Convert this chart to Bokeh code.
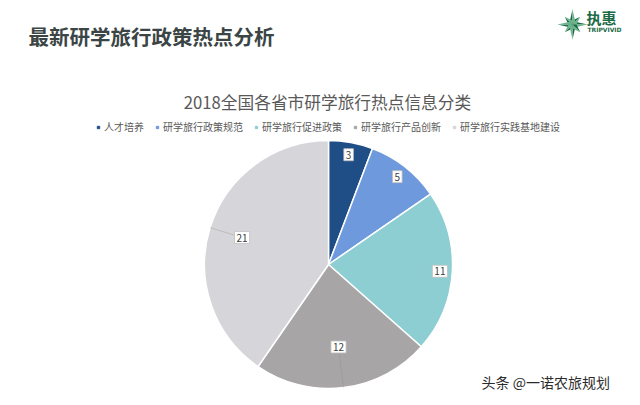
import numpy as np
from bokeh.plotting import figure
from bokeh.models import ColumnDataSource, Range1d, Legend, LegendItem
from bokeh.core.properties import value
from bokeh.embed import file_html
from bokeh.resources import INLINE

# ---- data ----
categories = ["人才培养", "研学旅行政策规范", "研学旅行促进政策", "研学旅行产品创新", "研学旅行实践基地建设"]
counts = [3, 5, 11, 12, 21]
colors = ["#1f4e87", "#6e99dc", "#8dced2", "#a8a5a7", "#d6d5d9"]
label_r = [0.90, 0.90, 0.90, 0.67, 0.73]   # label distance (fraction of radius)

page_title = "最新研学旅行政策热点分析"
chart_title = "2018全国各省市研学旅行热点信息分类"
watermark = "头条 @一诺农旅规划"

W, H = 640, 405
FONT = "Noto Sans CJK SC"

p = figure(width=W, height=H, x_range=Range1d(0, W), y_range=Range1d(0, H),
           output_backend="svg", toolbar_location=None, min_border=0)
p.axis.visible = False
p.grid.visible = False
p.outline_line_color = None
p.background_fill_color = "white"
p.border_fill_color = "white"

# ---- pie ----
cx, cy, R = 328, H - 264, 124
vals = np.array(counts, dtype=float)
frac = vals / vals.sum()
cum_end = np.cumsum(frac)
cum_start = cum_end - frac
start = np.pi / 2 - cum_start * 2 * np.pi
end = np.pi / 2 - cum_end * 2 * np.pi
mid = (start + end) / 2

src = ColumnDataSource(dict(start=start, end=end, color=colors, cat=categories,
                            val=[str(c) for c in counts]))
p.wedge(x=cx, y=cy, radius=R, start_angle="start", end_angle="end", direction="clock",
        fill_color="color", line_color="white", line_width=1.5, source=src)

lr = np.array(label_r)
lx = cx + lr * R * np.cos(mid)
ly = cy + lr * R * np.sin(mid)

# leader lines for labels moved inward
for i in range(len(counts)):
    if label_r[i] < 0.85:
        ex = cx + R * np.cos(mid[i])
        ey = cy + R * np.sin(mid[i])
        p.line([lx[i], ex], [ly[i], ey], line_color="#8c8c8c", line_alpha=0.35, line_width=1)

p.text(x=lx, y=ly, text=[str(c) for c in counts], text_font=value(FONT),
       text_font_size="10px", text_color="#404040", text_align="center",
       text_baseline="middle", background_fill_color="white",
       border_line_color="#bfbfbf", border_line_width=0.8, padding=2)

# ---- legend ----
items = []
for cat, col in zip(categories, colors):
    r = p.scatter(x=[-1000], y=[-1000], marker="square", size=5, fill_color=col, line_color=col)
    items.append(LegendItem(label=cat, renderers=[r]))
legend = Legend(items=items, orientation="horizontal", location=(95, H - 134),
                glyph_width=6, glyph_height=12, label_height=12, label_standoff=3,
                spacing=10, padding=0, margin=0, border_line_color=None,
                background_fill_alpha=0, label_text_font=FONT,
                label_text_font_size="10px", label_text_color="#595959")
p.add_layout(legend, "center")

# ---- titles ----
p.text(x=[28], y=[H - 35], text=[page_title], text_font=value(FONT), text_font_size="20.5px",
       text_font_style="bold", text_color="#3b4545", text_baseline="middle")
p.text(x=[327], y=[H - 101], text=[chart_title], text_font=value(FONT), text_font_size="16.7px",
       text_color="#595959", text_align="center", text_baseline="middle")

# ---- logo ----
lcx, lcy = 572, H - 24
for k in range(8):
    a = k * np.pi / 4
    tip = 15 if k % 2 == 0 else 11
    w = 4.0
    tx, ty = lcx + tip * np.cos(a), lcy + tip * np.sin(a)
    for side, col in ((1, "#1c6a46"), (-1, "#6db48c")):
        sx = lcx + w * np.cos(a + side * np.pi / 4)
        sy = lcy + w * np.sin(a + side * np.pi / 4)
        p.patch([lcx, sx, tx], [lcy, sy, ty], fill_color=col, line_color=None)
p.text(x=[586], y=[H - 17], text=["执惠"], text_font=value(FONT), text_font_size="15px",
       text_font_style="bold", text_color="#1c6a46", text_baseline="middle")
p.text(x=[587], y=[H - 29], text=["TRIPVIVID"], text_font=value("DejaVu Sans"),
       text_font_size="6px", text_font_style="bold", text_color="#1c6a46", text_baseline="middle")

# ---- watermark ----
p.text(x=[481], y=[H - 381], text=[watermark], text_font=value(FONT), text_font_size="14px",
       text_color="#2b2b2b", text_baseline="middle")

open("out.html", "w").write(file_html(p, INLINE))
